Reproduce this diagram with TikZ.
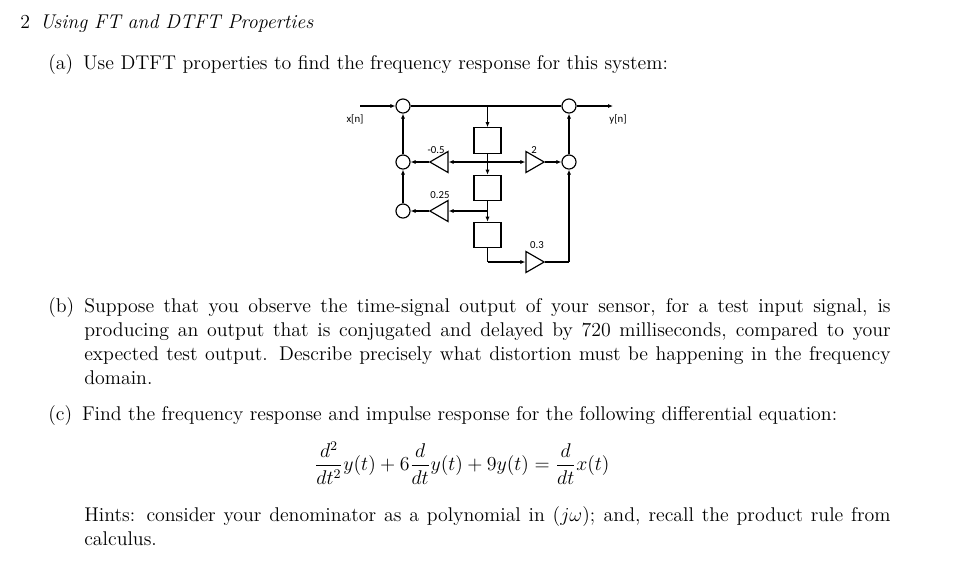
\documentclass[tikz,border=0pt]{standalone}
\usepackage{fontspec}
\newfontfamily\diag{Carlito}
\usetikzlibrary{arrows.meta}
\tikzset{
 sum/.style={circle,draw,minimum size=8.5pt,inner sep=0pt,line width=0.7pt,fill=white},
 dly/.style={draw,minimum width=16.3pt,minimum height=15.4pt,inner sep=0pt,line width=0.7pt},
 gain/.style={isosceles triangle,draw,isosceles triangle apex angle=60,minimum height=11pt,minimum width=11pt,inner sep=0pt,line width=0.7pt},
 wire/.style={line width=0.7pt},
 arr/.style={wire,-{Latex[length=3pt,width=2.5pt]}},
 lab/.style={font=\diag\fontsize{6.5}{7}\selectfont,inner sep=0pt},
 txt/.style={anchor=base west,inner sep=0pt,font=\fontsize{12}{14.5}\selectfont},
}
\usetikzlibrary{shapes.geometric}
\begin{document}
\begin{tikzpicture}[x=0.604pt,y=-0.604pt]
\useasboundingbox (0,0) rectangle (975,564);
% text
\node[txt] (h) at (20,28) {2\enspace\textit{Using FT and DTFT Properties}};
\node[txt] (a) at (48,69) {(a)\enspace Use DTFT properties to find the frequency response for this system:};
\node[txt] (bl) at (48,312) {(b)};
\node[txt,text width=487pt,align=justify,anchor=north west] (b) at (84,298) {Suppose that you observe the time-signal output of your sensor, for a test input signal, is producing an output that is conjugated and delayed by 720 milliseconds, compared to your expected test output. Describe precisely what distortion must be happening in the frequency domain.};
\node[txt] (c) at (48,420) {(c)\enspace Find the frequency response and impulse response for the following differential equation:};
\node[inner sep=0pt,font=\fontsize{12}{14.5}\selectfont] (eq) at (462,463) {$\displaystyle \frac{d^2}{dt^2}y(t)+6\frac{d}{dt}y(t)+9y(t)=\frac{d}{dt}x(t)$};
\node[txt,text width=487pt,align=justify,anchor=north west] (hint) at (84,506) {Hints: consider your denominator as a polynomial in $(j\omega)$; and, recall the product rule from calculus.};
% diagram
\node[sum] (s1) at (403,106) {};
\node[sum] (s2) at (569,106) {};
\node[sum] (l2) at (403,162) {};
\node[sum] (r2) at (569,162) {};
\node[sum] (l3) at (403,211) {};
\node[dly] (d1) at (487.5,140.5) {};
\node[dly] (d2) at (487.5,188) {};
\node[dly] (d3) at (487.5,235) {};
\node[gain,shape border rotate=180] (gm) at (442,162) {};
\node[gain] (g2) at (532,162) {};
\node[gain,shape border rotate=180] (g3) at (442,211) {};
\node[gain] (g4) at (532,262) {};
\coordinate (in) at (360,106);
\coordinate (out) at (613,106);
\coordinate (t1) at (487.5,106);
\coordinate (j2) at (487.5,162);
\coordinate (j3) at (487.5,211);
\coordinate (c4) at (487.5,262);
\coordinate (c5) at (569,262);
\node[lab] (xl) at (355,119) {x[n]};
\node[lab] (yl) at (618,119) {y[n]};
\node[lab] (lm) at (436,150) {-0.5};
\node[lab] (l2g) at (534,150) {2};
\node[lab] (l3g) at (440,195) {0.25};
\node[lab] (l4g) at (537,245) {0.3};
\draw[arr] (in) -- (s1);
\draw[wire] (s1) -- (s2);
\draw[arr] (s2) -- (out);
\draw[arr] (t1) -- (d1);
\draw[wire] (d1) -- (j2);
\draw[arr] (j2) -- (d2);
\draw[wire] (d2) -- (j3);
\draw[arr] (j3) -- (d3);
\draw[wire] (d3) -- (c4);
\draw[arr] (c4) -- (g4);
\draw[wire] (g4) -- (c5);
\draw[arr] (c5) -- (r2);
\draw[arr] (r2) -- (s2);
\draw[arr] (j2) -- (gm);
\draw[arr] (gm) -- (l2);
\draw[arr] (j2) -- (g2);
\draw[arr] (g2) -- (r2);
\draw[arr] (j3) -- (g3);
\draw[arr] (g3) -- (l3);
\draw[arr] (l3) -- (l2);
\draw[arr] (l2) -- (s1);
\end{tikzpicture}
\end{document}
